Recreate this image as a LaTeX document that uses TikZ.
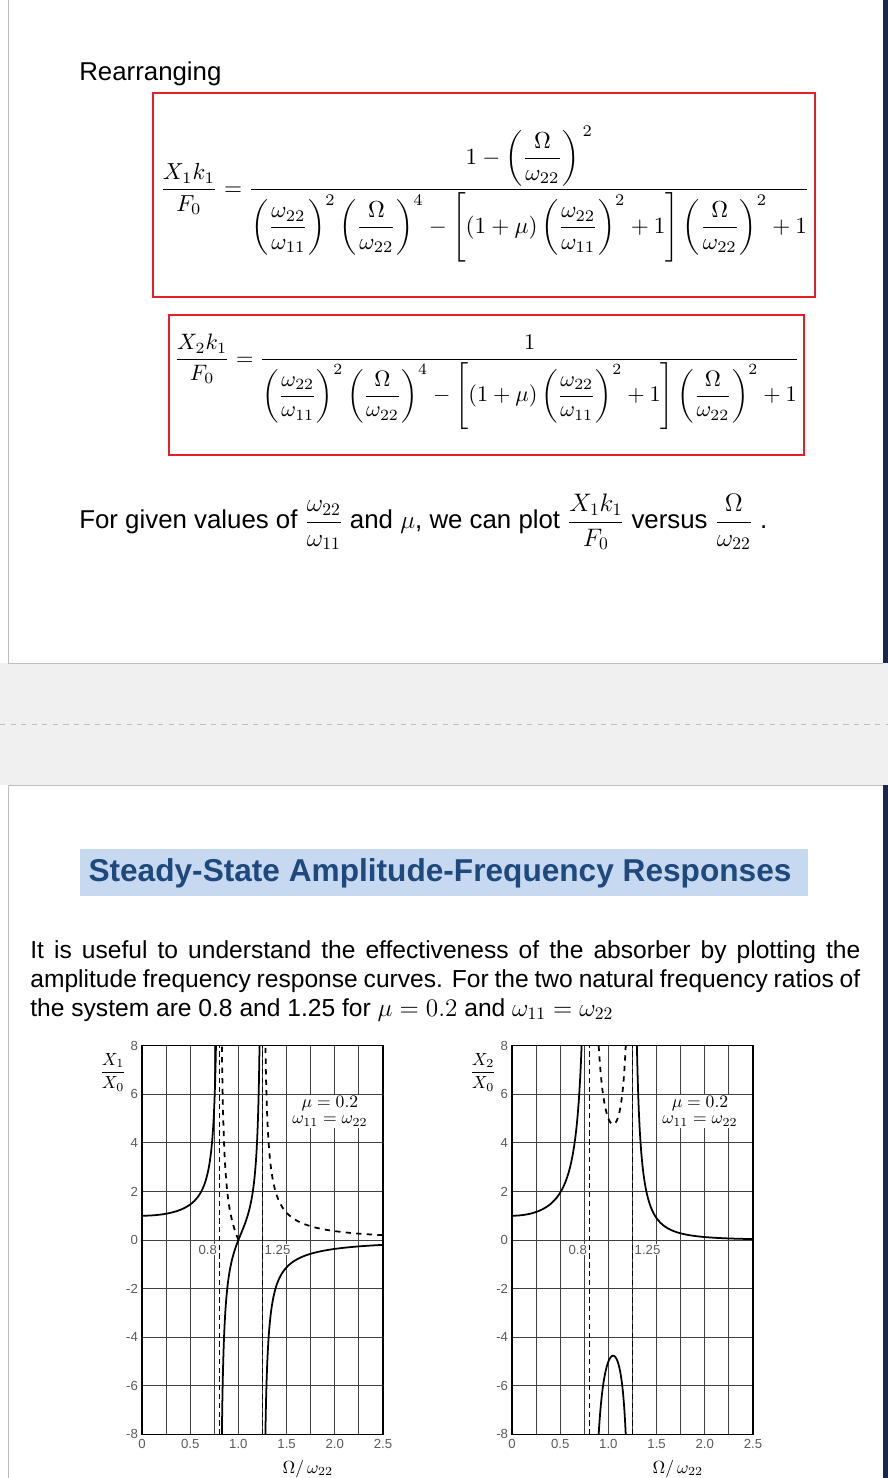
\documentclass[tikz,border=0pt]{standalone}
\usepackage{fontspec}
\setmainfont{Liberation Sans}
\usepackage{amsmath}
\usepackage{graphicx}
\definecolor{slidegray}{RGB}{240,240,240}
\definecolor{slideedge}{RGB}{190,190,190}
\definecolor{navybar}{RGB}{22,42,72}
\definecolor{titleblue}{RGB}{31,73,125}
\definecolor{titlefill}{RGB}{198,217,241}
\definecolor{boxred}{RGB}{230,30,40}
\definecolor{ticgray}{RGB}{90,90,90}
\tikzset{
  txt/.style={font=\fontsize{14.7}{17}\selectfont, inner sep=0pt},
  eqbox/.style={draw=boxred, line width=0.9pt},
  tic/.style={font=\fontsize{7.5}{9}\selectfont, text=ticgray, inner sep=1pt},
  gridln/.style={line width=0.5pt, black!75},
  curve/.style={line width=1pt, samples=160, smooth},
  asym/.style={line width=0.5pt, dash pattern=on 3pt off 2pt},
}
\newcommand{\fracpar}[2]{\left(\dfrac{#1}{#2}\right)}
\newcommand{\denom}{\fracpar{\omega_{22}}{\omega_{11}}^{2}\fracpar{\Omega}{\omega_{22}}^{4}
  -\left[(1+\mu)\fracpar{\omega_{22}}{\omega_{11}}^{2}+1\right]\fracpar{\Omega}{\omega_{22}}^{2}+1}
\begin{document}
\begin{tikzpicture}[x=0.02cm, y=-0.02cm]
\useasboundingbox (0,0) rectangle (888,1478);
% Slides
\fill[slidegray] (0,663) rectangle (888,785);
\draw[slideedge] (8,0) -- (8,663) -- (883,663);
\draw[slideedge] (8,1478) -- (8,785) -- (883,785);
\fill[navybar] (883,0) rectangle (888,663);
\fill[navybar] (883,785) rectangle (888,1478);
\draw[slideedge, dashed] (0,724) -- (888,724);

% Rearranging
\node[txt, anchor=west] (rear) at (79,74) {Rearranging};
\draw[eqbox] (153,93) rectangle (815,297);
\node[font=\fontsize{10}{12}\selectfont] (eqa) at (485,194)
  {\scalebox{1.32}{$\dfrac{X_1k_1}{F_0}=\dfrac{1-\fracpar{\Omega}{\omega_{22}}^{\,2}}{\denom}$}};
\draw[eqbox] (169,315) rectangle (804,455);
\node[font=\fontsize{10}{12}\selectfont] (eqb) at (487,382)
  {\scalebox{1.27}{$\dfrac{X_2k_1}{F_0}=\dfrac{1}{\denom}$}};
\node[txt, anchor=west] (given) at (79,522)
  {For given values of $\dfrac{\omega_{22}}{\omega_{11}}$ and $\mu$, we can plot
   $\dfrac{X_1k_1}{F_0}$ versus $\dfrac{\Omega}{\omega_{22}}$ .};

% Second slide
\fill[titlefill] (80,849) rectangle (808,896);
\node[font=\fontsize{18}{20}\selectfont\bfseries, text=titleblue] (title) at (440,873)
  {Steady-State Amplitude-Frequency Responses};
\node[txt, anchor=north west, text width=830*0.02cm, align=justify,
  font=\fontsize{14}{16.5}\selectfont] (para) at (30,940)
  {\hyphenpenalty=10000\relax It is useful to understand the effectiveness of the absorber by plotting the
   amplitude frequency response curves. For the two natural frequency ratios of
   the system are 0.8 and 1.25 for $\mu=0.2$ and $\omega_{11}=\omega_{22}$};

% Plots
\foreach \px/\lab in {142/1, 512/2} {
  \begin{scope}[shift={(\px,1240)}, xscale=96.4, yscale=-24.3]
    \foreach \gx in {0,0.25,...,2.5} \draw[gridln] (\gx,-8) -- (\gx,8);
    \foreach \gy in {-8,-6,...,8} {
      \draw[gridln] (0,\gy) -- (2.5,\gy);
      \node[tic, anchor=east] at (-0.02,\gy) {\gy};
    }
    \foreach \gx/\gl in {0/0,0.5/0.5,1/1.0,1.5/1.5,2/2.0,2.5/2.5}
      \node[tic, anchor=north] at (\gx,-8.1) {\gl};
    \draw[line width=0.8pt] (0,-8) rectangle (2.5,8);
    \draw[asym] (0.8,-8) -- (0.8,8);
    \draw[asym] (1.25,-8) -- (1.25,8);
    \node[tic, anchor=north east, fill=white, inner sep=0.5pt] at (0.79,-0.15) {0.8};
    \node[tic, anchor=north west, fill=white, inner sep=0.5pt] at (1.26,-0.15) {1.25};
    \node[font=\fontsize{10}{11}\selectfont, fill=white, inner sep=0.5pt] at (-0.3,6.9) {$\dfrac{X_\lab}{X_0}$};
    \node[font=\fontsize{10}{11}\selectfont, anchor=north] at (1.72,-8.8) {$\Omega/\,\omega_{22}$};
    \node[font=\fontsize{10}{11}\selectfont, align=center, fill=white, inner sep=1pt] at (1.95,5.3)
      {$\mu=0.2$\\[-2pt]$\omega_{11}=\omega_{22}$};
  \end{scope}
}
% Curves X1/X0
\begin{scope}[shift={(142,1240)}, xscale=96.4, yscale=-24.3]
  \clip (0,-8) rectangle (2.5,8);
  \draw[curve, domain=0:0.797] plot (\x,{(1-\x^2)/(\x^4-2.2*\x^2+1)});
  \draw[curve, domain=0.805:1.244] plot (\x,{(1-\x^2)/(\x^4-2.2*\x^2+1)});
  \draw[curve, domain=1.253:2.5] plot (\x,{(1-\x^2)/(\x^4-2.2*\x^2+1)});
  \draw[curve, dashed, domain=0.805:1.0] plot (\x,{-(1-\x^2)/(\x^4-2.2*\x^2+1)});
  \draw[curve, dashed, domain=1.253:2.5] plot (\x,{-(1-\x^2)/(\x^4-2.2*\x^2+1)});
\end{scope}
% Curves X2/X0
\begin{scope}[shift={(512,1240)}, xscale=96.4, yscale=-24.3]
  \clip (0,-8) rectangle (2.5,8);
  \draw[curve, domain=0:0.797] plot (\x,{1/(\x^4-2.2*\x^2+1)});
  \draw[curve, domain=0.805:1.244] plot (\x,{1/(\x^4-2.2*\x^2+1)});
  \draw[curve, domain=1.253:2.5] plot (\x,{1/(\x^4-2.2*\x^2+1)});
  \draw[curve, dashed, domain=0.805:1.244] plot (\x,{-1/(\x^4-2.2*\x^2+1)});
\end{scope}
\end{tikzpicture}
\end{document}
